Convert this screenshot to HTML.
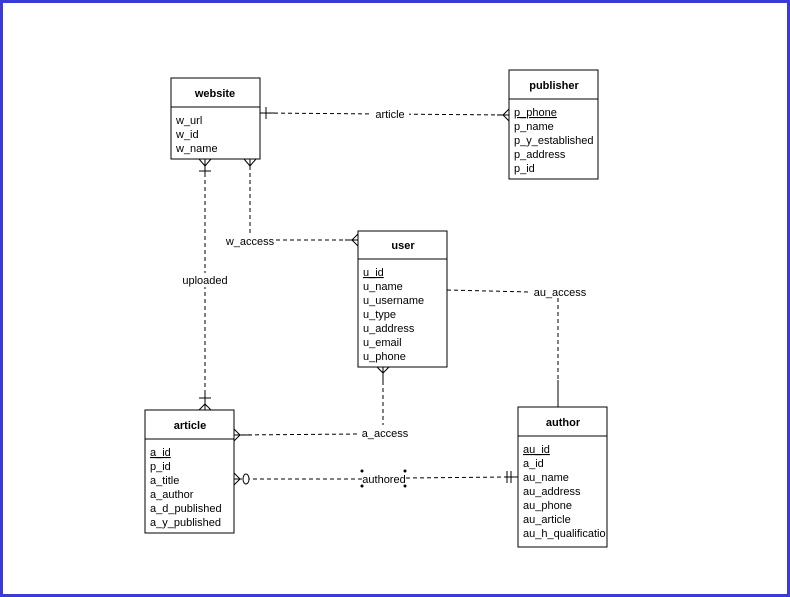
<!DOCTYPE html>
<html><head><meta charset="utf-8"><style>
html,body{margin:0;padding:0;background:#fff}
svg{display:block}
text{font-family:"Liberation Sans",Arial,sans-serif;font-size:11px;fill:#000}
.h{font-weight:bold;text-anchor:middle}
.d{stroke:#000;stroke-width:1;stroke-dasharray:4,3;fill:none}
.s{stroke:#000;stroke-width:1;fill:none}
.b{fill:#fff;stroke:#000;stroke-width:1}
</style></head><body>
<svg width="790" height="597" xmlns="http://www.w3.org/2000/svg">
<rect x="1.5" y="1.5" width="787" height="594" fill="#fff" stroke="#3a3ad6" stroke-width="3"/>
<!-- connectors -->
<path class="d" d="M260 113 L509 115"/>
<path class="s" d="M260 113 H275 M266 107 V119 M497 115 H509 M509 109 L503 115 L509 121"/>
<rect x="371" y="106" width="38" height="14" fill="#fff"/>
<text x="390" y="118" text-anchor="middle">article</text>

<path class="d" d="M205 159 V410"/>
<path class="s" d="M199 159 L205 166 L211 159 M199 171 H211 M205 159 V175 M199 398 H211 M199 410 L205 404 L211 410 M205 392 V410"/>
<rect x="182" y="273" width="46" height="14" fill="#fff"/>
<text x="205" y="284" text-anchor="middle">uploaded</text>

<path class="d" d="M250 159 V234 M276 240 H358"/>
<path class="s" d="M244 159 L250 166 L256 159 M250 159 V170 M345 240 H358 M358 234 L352 240 L358 246"/>
<text x="250" y="245" text-anchor="middle">w_access</text>

<path class="d" d="M447 290 L530 292 M558 298 V380"/>
<path class="s" d="M558 380 V407"/>
<text x="560" y="296" text-anchor="middle">au_access</text>

<path class="d" d="M383 367 V425 M234 435 L360 434"/>
<path class="s" d="M377 367 L383 373 L389 367 M383 367 V385 M234 429 L240 435 L234 441 M234 435 H252"/>
<text x="385" y="437" text-anchor="middle">a_access</text>

<path class="d" d="M246 479 L362 479 M406 478 L506 477"/>
<path class="s" d="M234 473 L240 479 L234 485 M234 479 H242 M506 477 H518 M507 471 V483 M511 471 V483"/>
<ellipse cx="246" cy="479" rx="3" ry="5" fill="#fff" stroke="#000"/>
<text x="384" y="483" text-anchor="middle">authored</text>
<g fill="#000"><circle cx="362" cy="471" r="1.5"/><circle cx="405" cy="471" r="1.5"/><circle cx="362" cy="486" r="1.5"/><circle cx="405" cy="486" r="1.5"/></g>

<!-- website -->
<rect class="b" x="171" y="78" width="89" height="81"/>
<path class="s" d="M171 107 H260"/>
<text class="h" x="215" y="97">website</text>
<text x="176" y="124">w_url</text><text x="176" y="138">w_id</text><text x="176" y="152">w_name</text>

<!-- publisher -->
<rect class="b" x="509" y="70" width="89" height="109"/>
<path class="s" d="M509 99 H598"/>
<text class="h" x="554" y="89">publisher</text>
<text x="514" y="116" text-decoration="underline">p_phone</text><text x="514" y="130">p_name</text><text x="514" y="144">p_y_established</text><text x="514" y="158">p_address</text><text x="514" y="172">p_id</text>

<!-- user -->
<rect class="b" x="358" y="231" width="89" height="136"/>
<path class="s" d="M358 259 H447"/>
<text class="h" x="403" y="249">user</text>
<text x="363" y="276" text-decoration="underline">u_id</text><text x="363" y="290">u_name</text><text x="363" y="304">u_username</text><text x="363" y="318">u_type</text><text x="363" y="332">u_address</text><text x="363" y="346">u_email</text><text x="363" y="360">u_phone</text>

<!-- article -->
<rect class="b" x="145" y="410" width="89" height="123"/>
<path class="s" d="M145 439 H234"/>
<text class="h" x="190" y="429">article</text>
<text x="150" y="456" text-decoration="underline">a_id</text><text x="150" y="470">p_id</text><text x="150" y="484">a_title</text><text x="150" y="498">a_author</text><text x="150" y="512">a_d_published</text><text x="150" y="526">a_y_published</text>

<!-- author -->
<rect class="b" x="518" y="407" width="89" height="140"/>
<path class="s" d="M518 436 H607"/>
<text class="h" x="563" y="426">author</text>
<svg x="518" y="436" width="88" height="110">
<text x="5" y="17" text-decoration="underline">au_id</text><text x="5" y="31">a_id</text><text x="5" y="45">au_name</text><text x="5" y="59">au_address</text><text x="5" y="73">au_phone</text><text x="5" y="87">au_article</text><text x="5" y="101">au_h_qualification</text>
</svg>
</svg>
</body></html>
